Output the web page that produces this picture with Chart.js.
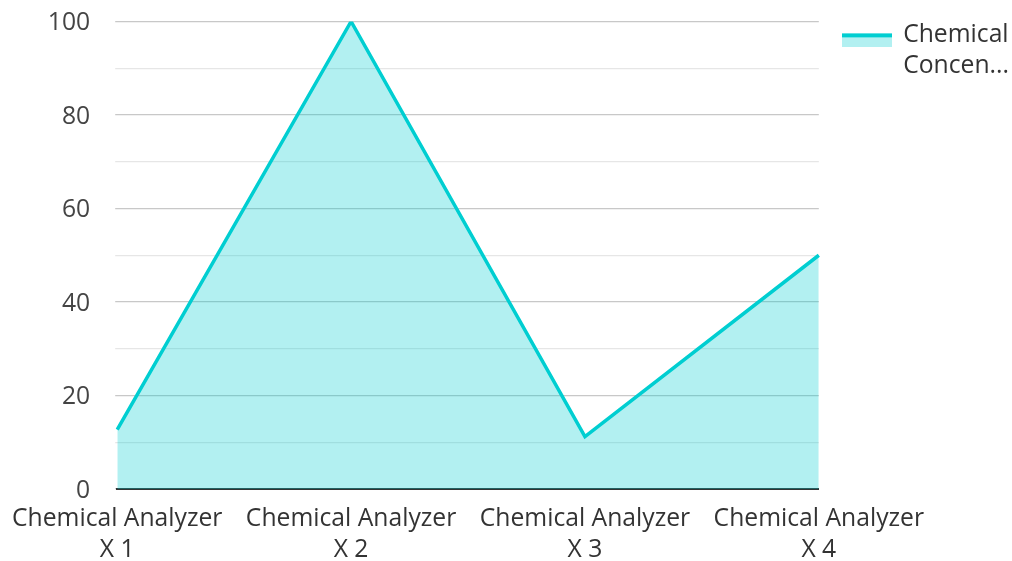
<!DOCTYPE html>
<html>
<head>
<meta charset="utf-8">
<script src="https://cdn.jsdelivr.net/npm/chart.js@4"></script>
<style>
  html, body { margin: 0; padding: 0; background: #fff; }
  #wrap { width: 1012px; height: 561px; }
</style>
</head>
<body>
<div id="wrap"><canvas id="c" width="1012" height="561"></canvas></div>
<script>
// Categories and readings
const categories = [["Chemical Analyzer", "X 1"], ["Chemical Analyzer", "X 2"], ["Chemical Analyzer", "X 3"], ["Chemical Analyzer", "X 4"]];
const seriesName = "Chemical Concentration";
const legendLines = ["Chemical", "Concen..."];
const concentration = [12.7, 100, 11.2, 50];
const yTicks = [0, 20, 40, 60, 80, 100];

const LINE = "#00CED1";
const FILL = "rgba(0, 206, 209, 0.3)";
const FONT = "'Open Sans', 'Noto Sans', sans-serif";
const FONT_SIZE = 24.7;
const TEXT = "#333333";

// Legend swatch: a thick line over a filled band, sitting a little low
function makeSwatch() {
  const cv = document.createElement("canvas");
  cv.width = 50; cv.height = 24;
  const g = cv.getContext("2d");
  g.fillStyle = FILL; g.fillRect(0, 10, 50, 14);
  g.fillStyle = LINE; g.fillRect(0, 10, 50, 4);
  return cv;
}
const swatch = makeSwatch();

new Chart(document.getElementById("c"), {
  type: "line",
  data: {
    labels: categories,
    datasets: [{
      label: seriesName,
      data: concentration,
      borderColor: LINE,
      backgroundColor: FILL,
      borderWidth: 3.5,
      fill: "origin",
      pointRadius: 0,
      tension: 0
    }]
  },
  options: {
    responsive: false,
    animation: false,
    layout: { padding: { top: -2, right: -7, bottom: 0, left: 0 } },
    plugins: {
      tooltip: { enabled: false },
      legend: {
        position: "right",
        align: "start",
        labels: {
          usePointStyle: true,
          pointStyleWidth: 47,
          boxHeight: 14,
          font: { family: FONT, size: FONT_SIZE, lineHeight: 1.255 },
          color: TEXT,
          padding: 25,
          generateLabels: (chart) => chart.data.datasets.map((ds, i) => ({
            text: legendLines,
            pointStyle: swatch,
            fillStyle: FILL,
            strokeStyle: LINE,
            fontColor: TEXT,
            lineWidth: 0,
            hidden: false,
            datasetIndex: i
          }))
        }
      }
    },
    scales: {
      x: {
        offset: false,
        grid: { display: false, drawTicks: false },
        border: { display: true, color: "#333", width: 2 },
        ticks: {
          font: { family: FONT, size: FONT_SIZE, lineHeight: 1.255 },
          color: TEXT,
          maxRotation: 0,
          autoSkip: false,
          padding: 14
        },
        afterFit: (scale) => { scale.height = 72; scale.paddingLeft -= 2; }
      },
      y: {
        min: 0,
        max: 100,
        border: { display: false },
        grid: {
          color: (ctx) => (ctx.tick && ctx.tick.value % 20 === 0) ? "#c8c8c8" : "#e6e6e6",
          lineWidth: 1.3,
          tickLength: 2
        },
        ticks: {
          stepSize: 10,
          font: { family: FONT, size: FONT_SIZE },
          color: "#444444",
          padding: 25,
          labelOffset: 1.5,
          callback: (v) => yTicks.includes(v) ? String(v) : ""
        },
        afterFit: (scale) => { scale.paddingTop = 21.5; }
      }
    }
  }
});
</script>
</body>
</html>
